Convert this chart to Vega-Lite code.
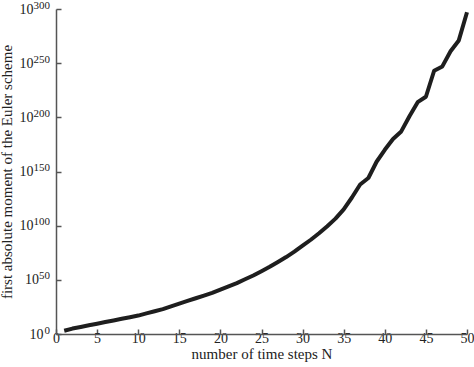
{
  "$schema": "https://vega.github.io/schema/vega-lite/v6.json",
  "width": 411,
  "height": 325,
  "autosize": "none",
  "padding": {"left": 56, "top": 9, "right": 7, "bottom": 33},
  "background": "white",
  "config": {
    "view": {"stroke": null},
    "font": "Liberation Serif",
    "axis": {
      "labelFont": "Liberation Serif",
      "titleFont": "Liberation Serif",
      "labelFontSize": 14,
      "titleFontSize": 15,
      "titleFontWeight": "normal",
      "labelColor": "#222",
      "titleColor": "#222",
      "domainColor": "#555",
      "domainWidth": 1.5,
      "tickColor": "#555",
      "tickWidth": 1.5,
      "tickSize": -5,
      "grid": false
    }
  },
  "layer": [
    {
      "data": {
        "values": [
          {"N": 1, "e": 3}, {"N": 2, "e": 5}, {"N": 3, "e": 6.5}, {"N": 4, "e": 8},
          {"N": 5, "e": 9.5}, {"N": 6, "e": 11}, {"N": 7, "e": 12.5}, {"N": 8, "e": 14},
          {"N": 9, "e": 15.5}, {"N": 10, "e": 17}, {"N": 11, "e": 19}, {"N": 12, "e": 21},
          {"N": 13, "e": 23}, {"N": 14, "e": 25.5}, {"N": 15, "e": 28}, {"N": 16, "e": 30.5},
          {"N": 17, "e": 33}, {"N": 18, "e": 35.5}, {"N": 19, "e": 38}, {"N": 20, "e": 41},
          {"N": 21, "e": 44}, {"N": 22, "e": 47}, {"N": 23, "e": 50.5}, {"N": 24, "e": 54},
          {"N": 25, "e": 58}, {"N": 26, "e": 62}, {"N": 27, "e": 66.5}, {"N": 28, "e": 71},
          {"N": 29, "e": 76}, {"N": 30, "e": 81.5}, {"N": 31, "e": 87}, {"N": 32, "e": 93},
          {"N": 33, "e": 99.5}, {"N": 34, "e": 106.5}, {"N": 35, "e": 115}, {"N": 36, "e": 126},
          {"N": 37, "e": 138}, {"N": 38, "e": 144}, {"N": 39, "e": 159}, {"N": 40, "e": 170},
          {"N": 41, "e": 180}, {"N": 42, "e": 187}, {"N": 43, "e": 201}, {"N": 44, "e": 214},
          {"N": 45, "e": 219}, {"N": 46, "e": 243}, {"N": 47, "e": 247}, {"N": 48, "e": 261},
          {"N": 49, "e": 271}, {"N": 50, "e": 297}
        ]
      },
      "mark": {"type": "line", "color": "#1e1e1e", "strokeWidth": 4, "strokeJoin": "round", "strokeCap": "butt"},
      "encoding": {
        "x": {
          "field": "N", "type": "quantitative",
          "scale": {"domain": [0, 50], "nice": false, "zero": false},
          "axis": {"values": [0, 5, 10, 15, 20, 25, 30, 35, 40, 45, 50], "title": "number of time steps N", "labelPadding": 2, "titlePadding": 1, "labelFlush": false}
        },
        "y": {
          "field": "e", "type": "quantitative",
          "scale": {"domain": [0, 300], "nice": false},
          "axis": {
            "values": [0, 50, 100, 150, 200, 250, 300],
            "labelExpr": "'10'",
            "title": "first absolute moment of the Euler scheme",
            "labelPadding": {"condition": [{"test": "datum.value == 0", "value": 18}, {"test": "datum.value < 100", "value": 22.5}], "value": 28},
            "titlePadding": 5,
            "labelFlush": false
          }
        }
      }
    },
    {
      "data": {
        "values": [
          {"v": 0, "s": "0"}, {"v": 50, "s": "50"}, {"v": 100, "s": "100"},
          {"v": 150, "s": "150"}, {"v": 200, "s": "200"}, {"v": 250, "s": "250"}, {"v": 300, "s": "300"}
        ]
      },
      "mark": {"type": "text", "align": "right", "baseline": "middle", "dx": -6, "dy": -3.5, "fontSize": 11, "font": "Liberation Serif", "color": "#222"},
      "encoding": {
        "x": {"datum": 0, "type": "quantitative"},
        "y": {"field": "v", "type": "quantitative"},
        "text": {"field": "s"}
      }
    }
  ]
}
